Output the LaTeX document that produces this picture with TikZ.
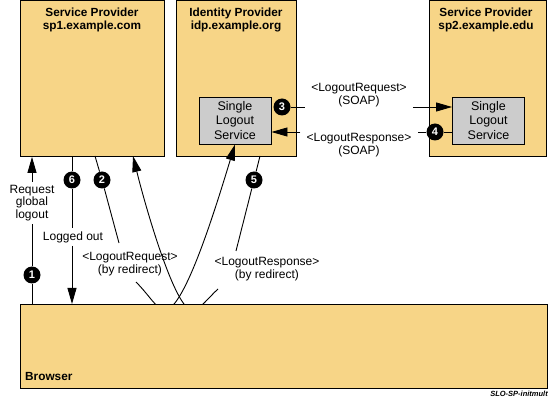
\documentclass[tikz,border=0pt]{standalone}
\usepackage{fontspec}
\setmainfont{Liberation Sans}
\usetikzlibrary{arrows.meta,calc}
\definecolor{tanfill}{RGB}{247,213,135}
\definecolor{slsgrey}{RGB}{204,204,204}
\pgfdeclarelayer{front}
\pgfsetlayers{main,front}
\begin{document}
\begin{tikzpicture}[x=1pt,y=-1pt,
  box/.style={draw=black, fill=tanfill, line width=0.9pt, inner sep=0pt, anchor=north west},
  slsbox/.style={draw=black, fill=slsgrey, line width=0.9pt, align=center, font=\fontsize{12.5}{14.5}\selectfont, minimum width=72pt, minimum height=47pt, inner sep=0pt},
  titletext/.style={align=center, font=\fontsize{11.8}{13.5}\selectfont\bfseries},
  lbl/.style={align=center, font=\fontsize{12}{12.8}\selectfont, inner sep=3pt},
  soaplbl/.style={lbl, inner xsep=6pt},
  num/.style={circle, fill=black, text=white, font=\fontsize{11}{11}\selectfont\bfseries, minimum size=17pt, inner sep=0pt},
  conn/.style={line width=0.9pt},
  arr/.style={conn, -{Triangle[length=16pt,width=9pt]}}]
\useasboundingbox (0,0) rectangle (549,403);

% boxes
\node[box, minimum width=144pt, minimum height=155.5pt] (sp1) at (20,0.5) {};
\node[box, minimum width=120pt, minimum height=155.5pt] (idp) at (176,0.5) {};
\node[box, minimum width=117pt, minimum height=155.5pt] (sp2) at (429,0.5) {};
\begin{pgfonlayer}{front}
\node[box, minimum width=527pt, minimum height=84pt] (browser) at (20,304) {};
\node[anchor=west, inner sep=0pt, font=\fontsize{11.8}{13}\selectfont\bfseries] (browsert) at (25,376) {Browser};
\end{pgfonlayer}

% titles
\node[titletext] (sp1t) at (92,20) {Service Provider\\sp1.example.com};
\node[titletext] (idpt) at (236,20) {Identity Provider\\idp.example.org};
\node[titletext] (sp2t) at (486,20) {Service Provider\\sp2.example.edu};

% single logout services
\node[slsbox] (sls1) at (235,120.5) {Single\\Logout\\Service};
\node[slsbox] (sls2) at (488.5,120.5) {Single\\Logout\\Service};

% step numbers
\node[num] (n1) at (32,275) {1};
\node[num] (n2) at (102,180) {2};
\node[num] (n3) at (282,107) {3};
\node[num] (n4) at (435,132) {4};
\node[num] (n5) at (254,180) {5};
\node[num] (n6) at (72,180) {6};

% labels
\node[lbl] (lReq) at (32,203) {Request\\global\\logout};
\node[lbl] (lOut) at (73,237) {Logged out};
\node[lbl] (lLR) at (130,264) {<LogoutRequest>\\(by redirect)};
\node[lbl] (lLRs) at (267,269.5) {<LogoutResponse>\\(by redirect)};
\node[soaplbl] (lSoapReq) at (359,95) {<LogoutRequest>\\(SOAP)};
\node[soaplbl] (lSoapResp) at (359,145) {<LogoutResponse>\\(SOAP)};
\node[anchor=east, inner sep=0pt, font=\fontsize{7.5}{8}\selectfont\bfseries\itshape] (code) at (548,394) {SLO-SP-initmult};

% free ends of connectors
\coordinate (p2top) at (95,156);
\coordinate (p2mid) at (119,243);
\coordinate (p2low) at (136,282);
\coordinate (p2bot) at (165,310);
\coordinate (p5top) at (260,156);
\coordinate (p5mid) at (236,251);
\coordinate (p5low) at (218,289);
\coordinate (p5bot) at (192,310);
\coordinate (p5end) at (133,156);

% 1: request global logout
\draw[conn] (browser.north -| n1) -- (n1);
\draw[conn] (n1) -- (lReq.south);
\draw[arr] (lReq.north) -- (lReq.north |- sp1.south);

% 6: logged out
\draw[conn] (sp1.south -| n6) -- (n6);
\draw[conn] (n6) -- (n6 |- lOut.north);
\draw[arr] (n6 |- lOut.south) -- (n6 |- browser.north);

% 2: LogoutRequest by redirect
\draw[conn] (p2top) -- (n2);
\draw[conn] (n2) -- (p2mid);
\draw[arr] (p2low) .. controls (150,296) and (157,310) .. (p2bot)
  .. controls (185,310) and (218,200) .. (sls1.south);

% 3: LogoutRequest (SOAP)
\draw[conn] (n3) -- (lSoapReq.west |- n3);
\draw[arr] (lSoapReq.east |- n3) -- (sls2.west |- n3);

% 4: LogoutResponse (SOAP)
\draw[conn] (sls2.west |- n4) -- (n4);
\draw[conn] (n4) -- (lSoapResp.east |- n4);
\draw[arr] (lSoapResp.west |- n4) -- (sls1.east |- n4);

% 5: LogoutResponse by redirect
\draw[conn] (p5top) -- (n5);
\draw[conn] (n5) -- (p5mid);
\draw[arr] (p5low) .. controls (208,298) and (200,310) .. (p5bot)
  .. controls (175,310) and (145,205) .. (p5end);
\end{tikzpicture}
\end{document}
